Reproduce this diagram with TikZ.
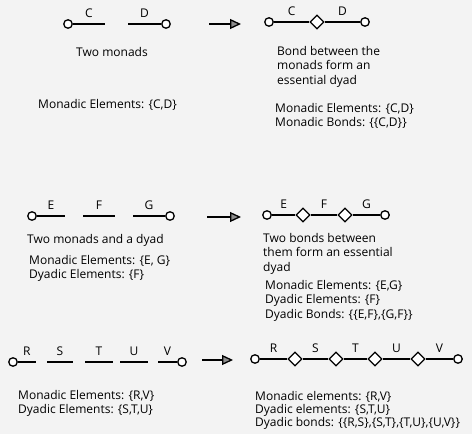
\documentclass[tikz,border=0pt]{standalone}
\usepackage{fontspec}
\setmainfont{Open Sans}
\usetikzlibrary{arrows.meta,shapes.geometric}
\definecolor{panel}{HTML}{F3F3F3}
\definecolor{tipgray}{HTML}{8C8C8C}
\tikzset{
  font=\fontsize{12}{14.5}\selectfont,
  monad/.style={
    circle,
    draw=black,
    line width=1.3pt,
    fill=white,
    inner sep=0pt,
    minimum size=8.5pt
  },
  bond/.style={
    diamond,
    draw=black,
    line width=1.3pt,
    fill=white,
    inner sep=0pt,
    minimum size=14pt
  },
  link/.style={
    draw=black,
    line width=1.3pt
  },
  elem/.style={
    inner sep=0pt,
    above=6pt
  },
  caption/.style={
    anchor=north west,
    align=left,
    inner sep=0pt
  },
  tight caption/.style={
    caption,
    font=\fontsize{12}{13}\selectfont
  },
  goes/.style={
    -{Triangle[length=11pt,width=10pt,fill=tipgray]},
    draw=black,
    line width=1.3pt
  }
}

\begin{document}
\begin{tikzpicture}[x=1pt,y=-1pt]

\useasboundingbox (0,0) rectangle (474,438);
\fill[panel] (0,0) rectangle (472,434);

% ---------------------------------------------------------------------------
% 1. Two monads
% ---------------------------------------------------------------------------
\node[monad] (c) at (68,24) {};
\coordinate (cEnd) at (105,24);
\coordinate (dStart) at (128,24);
\node[monad] (d) at (166,24) {};
\draw[link] (c) -- node[elem] {C} (cEnd);
\draw[link] (dStart) -- node[elem] {D} (d);

\node[anchor=center] (twoMonads) at (112,52) {Two monads};
\node[caption] (setsCD) at (38,99) {Monadic Elements: \{C,D\}};

\coordinate (arrOneA) at (209,24);
\coordinate (arrOneB) at (241,24);
\draw[goes] (arrOneA) -- (arrOneB);

\node[monad] (cc) at (269,22) {};
\node[bond] (cd) at (317,22) {};
\node[monad] (dd) at (365,22) {};
\draw[link] (cc) -- node[elem] {C} (cd);
\draw[link] (cd) -- node[elem] {D} (dd);

\node[caption] (bondText) at (277,46) {Bond between the\\monads form an\\essential dyad};
\node[caption] (bondSets) at (275,103) {Monadic Elements: \{C,D\}\\Monadic Bonds: \{\{C,D\}\}};

% ---------------------------------------------------------------------------
% 2. Two monads and a dyad
% ---------------------------------------------------------------------------
\node[monad] (e) at (32,216) {};
\coordinate (eEnd) at (65,216);
\coordinate (fStart) at (83,216);
\coordinate (fEnd) at (115,216);
\coordinate (gStart) at (133,216);
\node[monad] (g) at (170,216) {};
\draw[link] (e) -- node[elem] {E} (eEnd);
\draw[link] (fStart) -- node[elem] {F} (fEnd);
\draw[link] (gStart) -- node[elem] {G} (g);

\node[caption] (dyadText) at (27,234) {Two monads and a dyad};
\node[caption] (dyadSets) at (29,255) {Monadic Elements: \{E, G\}\\Dyadic Elements: \{F\}};

\coordinate (arrTwoA) at (207,217);
\coordinate (arrTwoB) at (241,217);
\draw[goes] (arrTwoA) -- (arrTwoB);

\node[monad] (ee) at (267,215) {};
\node[bond] (ef) at (303,215) {};
\node[bond] (fg) at (345,215) {};
\node[monad] (gg) at (385,215) {};
\draw[link] (ee) -- node[elem] {E} (ef);
\draw[link] (ef) -- node[elem] {F} (fg);
\draw[link] (fg) -- node[elem] {G} (gg);

\node[caption] (twoBondsText) at (263,233) {Two bonds between\\them form an essential\\dyad};
\node[caption] (twoBondsSets) at (265,280) {Monadic Elements: \{E,G\}\\Dyadic Elements: \{F\}\\Dyadic Bonds: \{\{E,F\},\{G,F\}\}};

% ---------------------------------------------------------------------------
% 3. A chain of five
% ---------------------------------------------------------------------------
\node[monad] (r) at (13,362) {};
\coordinate (rEnd) at (36,362);
\coordinate (sStart) at (47,362);
\coordinate (sEnd) at (73,362);
\coordinate (tStart) at (85,362);
\coordinate (tEnd) at (113,362);
\coordinate (uStart) at (120,362);
\coordinate (uEnd) at (148,362);
\coordinate (vStart) at (158,362);
\node[monad] (v) at (182,362) {};
\draw[link] (r) -- node[elem] {R} (rEnd);
\draw[link] (sStart) -- node[elem] {S} (sEnd);
\draw[link] (tStart) -- node[elem] {T} (tEnd);
\draw[link] (uStart) -- node[elem] {U} (uEnd);
\draw[link] (vStart) -- node[elem] {V} (v);

\node[caption] (chainSets) at (18,390) {Monadic Elements: \{R,V\}\\Dyadic Elements: \{S,T,U\}};

\coordinate (arrThreeA) at (202,360);
\coordinate (arrThreeB) at (233,360);
\draw[goes] (arrThreeA) -- (arrThreeB);

\node[monad] (rr) at (255,359) {};
\node[bond] (rs) at (295,359) {};
\node[bond] (st) at (336,359) {};
\node[bond] (tu) at (375,359) {};
\node[bond] (uv) at (418,359) {};
\node[monad] (vv) at (458,359) {};
\draw[link] (rr) -- node[elem] {R} (rs);
\draw[link] (rs) -- node[elem] {S} (st);
\draw[link] (st) -- node[elem] {T} (tu);
\draw[link] (tu) -- node[elem] {U} (uv);
\draw[link] (uv) -- node[elem] {V} (vv);

\node[tight caption] (chainBondSets) at (255,391) {Monadic elements: \{R,V\}\\Dyadic elements: \{S,T,U\}\\Dyadic bonds: \{\{R,S\},\{S,T\},\{T,U\},\{U,V\}\}};

\end{tikzpicture}
\end{document}
